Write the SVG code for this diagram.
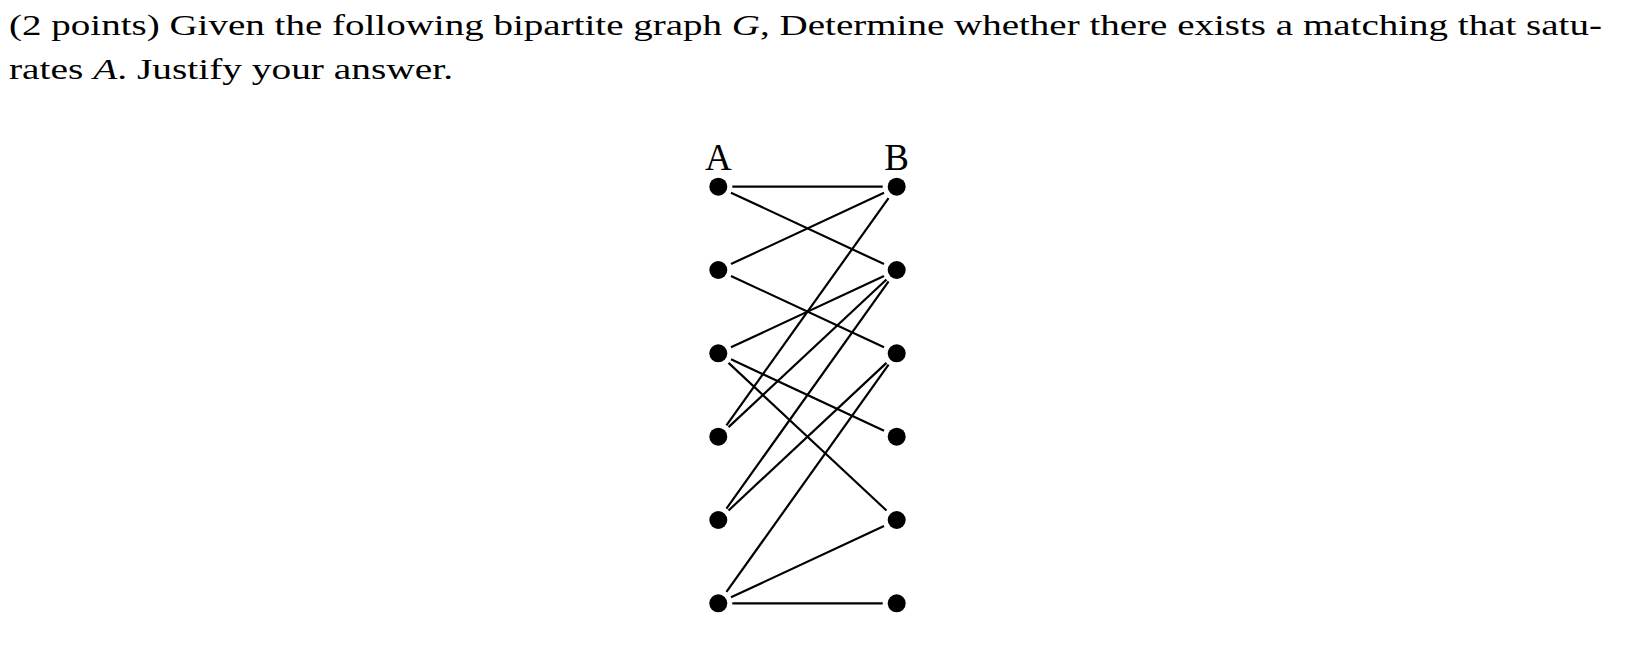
<svg xmlns="http://www.w3.org/2000/svg" width="1636" height="654" viewBox="0 0 1636 654">
<style>
.t{font-family:"Liberation Serif","Times New Roman",serif;font-size:30px;fill:#000}
.lbl{font-family:"Liberation Serif","Times New Roman",serif;font-size:37px;fill:#000;text-anchor:middle}
.e line{stroke:#000;stroke-width:2.2;stroke-linecap:butt}
.n{fill:#000}
</style>
<rect width="1636" height="654" fill="#fff"/>
<g id="question">
<text class="t" x="9" y="35" textLength="1593" lengthAdjust="spacingAndGlyphs">(2 points)  Given the following bipartite graph <tspan font-style="italic">G</tspan>, Determine whether there exists a matching that satu-</text>
<text class="t" x="9" y="78.5" textLength="444" lengthAdjust="spacingAndGlyphs">rates <tspan font-style="italic">A</tspan>.  Justify your answer.</text>
</g>
<g id="labels">
<text class="lbl" x="718.3" y="170">A</text>
<text class="lbl" x="896.7" y="170">B</text>
</g>
<g id="edges" class="e">
<line x1="732.3" y1="186.7" x2="882.7" y2="186.7"/>
<line x1="730.98" y1="192.63" x2="884.02" y2="264.07"/>
<line x1="730.98" y1="264.07" x2="884.02" y2="192.63"/>
<line x1="730.98" y1="275.93" x2="884.02" y2="347.37"/>
<line x1="730.98" y1="347.37" x2="884.02" y2="275.93"/>
<line x1="730.98" y1="359.23" x2="884.02" y2="430.77"/>
<line x1="728.53" y1="362.86" x2="886.47" y2="510.44"/>
<line x1="726.43" y1="425.3" x2="888.57" y2="198.1"/>
<line x1="728.53" y1="427.14" x2="886.47" y2="279.56"/>
<line x1="726.43" y1="508.6" x2="888.57" y2="281.4"/>
<line x1="728.53" y1="510.44" x2="886.47" y2="362.86"/>
<line x1="726.43" y1="591.9" x2="888.57" y2="364.7"/>
<line x1="730.98" y1="597.37" x2="884.02" y2="525.93"/>
<line x1="732.3" y1="603.3" x2="882.7" y2="603.3"/>
</g>
<g id="a1"><circle class="n" cx="718.3" cy="186.7" r="9"/></g>
<g id="a2"><circle class="n" cx="718.3" cy="270" r="9"/></g>
<g id="a3"><circle class="n" cx="718.3" cy="353.3" r="9"/></g>
<g id="a4"><circle class="n" cx="718.3" cy="436.7" r="9"/></g>
<g id="a5"><circle class="n" cx="718.3" cy="520" r="9"/></g>
<g id="a6"><circle class="n" cx="718.3" cy="603.3" r="9"/></g>
<g id="b1"><circle class="n" cx="896.7" cy="186.7" r="9"/></g>
<g id="b2"><circle class="n" cx="896.7" cy="270" r="9"/></g>
<g id="b3"><circle class="n" cx="896.7" cy="353.3" r="9"/></g>
<g id="b4"><circle class="n" cx="896.7" cy="436.7" r="9"/></g>
<g id="b5"><circle class="n" cx="896.7" cy="520" r="9"/></g>
<g id="b6"><circle class="n" cx="896.7" cy="603.3" r="9"/></g>
</svg>
